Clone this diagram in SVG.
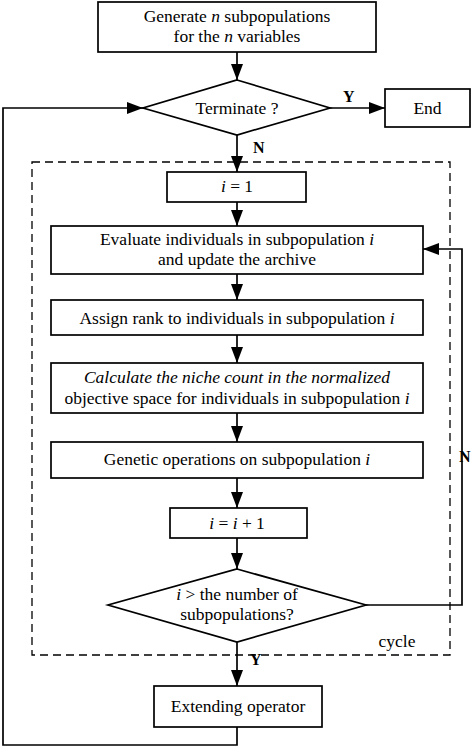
<svg xmlns="http://www.w3.org/2000/svg" width="474" height="748" viewBox="0 0 474 748">
<style>
.box{fill:#fff;stroke:#000;stroke-width:1.7}
.ln{fill:none;stroke:#000;stroke-width:1.7}
text{font-family:'Liberation Serif','Times New Roman','DejaVu Serif',serif}
.t{font-size:17.5px;fill:#000;text-anchor:middle}
.l{font-size:16px;font-weight:bold;fill:#000}
.it{font-style:italic}
</style>
<defs>
<marker id="ah" markerWidth="16" markerHeight="12" refX="16" refY="6" orient="auto" markerUnits="userSpaceOnUse">
<path d="M0,0 L16,6 L0,12 Z" fill="#000"/>
</marker>
</defs>
<rect x="0" y="0" width="474" height="748" fill="#fff"/>
<rect id="cycle" x="32" y="162" width="418" height="493" fill="none" stroke="#000" stroke-width="1.3" stroke-dasharray="8,5"/>
<g id="connectors">
<line class="ln" x1="237" y1="52" x2="237" y2="80" marker-end="url(#ah)"/>
<line class="ln" x1="330" y1="108" x2="385" y2="108" marker-end="url(#ah)"/>
<line class="ln" x1="237" y1="135" x2="237" y2="172" marker-end="url(#ah)"/>
<line class="ln" x1="237" y1="202" x2="237" y2="226" marker-end="url(#ah)"/>
<line class="ln" x1="237" y1="274" x2="237" y2="300" marker-end="url(#ah)"/>
<line class="ln" x1="237" y1="335" x2="237" y2="363" marker-end="url(#ah)"/>
<line class="ln" x1="237" y1="413" x2="237" y2="442" marker-end="url(#ah)"/>
<line class="ln" x1="237" y1="478" x2="237" y2="508" marker-end="url(#ah)"/>
<line class="ln" x1="237" y1="538" x2="237" y2="569" marker-end="url(#ah)"/>
<line class="ln" x1="237" y1="642" x2="237" y2="686" marker-end="url(#ah)"/>
<polyline class="ln" points="366,605 462,605 462,249 423,249" marker-end="url(#ah)"/>
<polyline class="ln" points="237,727 237,745 3,745 3,108 143,108" marker-end="url(#ah)"/>
<text class="l" x="343" y="102">Y</text>
<text class="l" x="253" y="153">N</text>
<text class="l" x="459" y="462">N</text>
<text class="l" x="250" y="665">Y</text>
</g>
<g id="generate">
<rect class="box" x="98" y="2" width="278" height="50"/>
<text class="t" x="237" y="22">Generate <tspan class="it">n</tspan> subpopulations</text>
<text class="t" x="237" y="42">for the <tspan class="it">n</tspan> variables</text>
</g>
<g id="terminate">
<polygon class="box" points="237,80 330,108 237,135 143,108"/>
<text class="t" x="237" y="114">Terminate ?</text>
</g>
<g id="end">
<rect class="box" x="385" y="89" width="85" height="38"/>
<text class="t" x="427.5" y="114">End</text>
</g>
<g id="init">
<rect class="box" x="167" y="172" width="139" height="30"/>
<text class="t" x="237" y="192"><tspan class="it">i</tspan> = 1</text>
</g>
<g id="evaluate">
<rect class="box" x="51" y="226" width="372" height="48"/>
<text class="t" x="237" y="245">Evaluate individuals in subpopulation <tspan class="it">i</tspan></text>
<text class="t" x="237" y="265">and update the archive</text>
</g>
<g id="assign">
<rect class="box" x="51" y="300" width="372" height="35"/>
<text class="t" x="237" y="324">Assign rank to individuals in subpopulation <tspan class="it">i</tspan></text>
</g>
<g id="calculate">
<rect class="box" x="51" y="363" width="372" height="50"/>
<text class="t it" x="237" y="383">Calculate the niche count in the normalized</text>
<text class="t" x="237" y="404">objective space for individuals in subpopulation <tspan class="it">i</tspan></text>
</g>
<g id="genetic">
<rect class="box" x="51" y="442" width="372" height="36"/>
<text class="t" x="237" y="465">Genetic operations on subpopulation <tspan class="it">i</tspan></text>
</g>
<g id="increment">
<rect class="box" x="170" y="508" width="137" height="30"/>
<text class="t" x="237" y="529"><tspan class="it">i</tspan> = <tspan class="it">i</tspan> + 1</text>
</g>
<g id="check">
<polygon class="box" points="237,569 366,605 237,642 108,605"/>
<text class="t" x="237" y="600"><tspan class="it">i</tspan> &gt; the number of</text>
<text class="t" x="237" y="620">subpopulations?</text>
</g>
<text class="t" x="397" y="647">cycle</text>
<g id="extending">
<rect class="box" x="154" y="686" width="168" height="41"/>
<text class="t" x="238" y="712">Extending operator</text>
</g>
</svg>
